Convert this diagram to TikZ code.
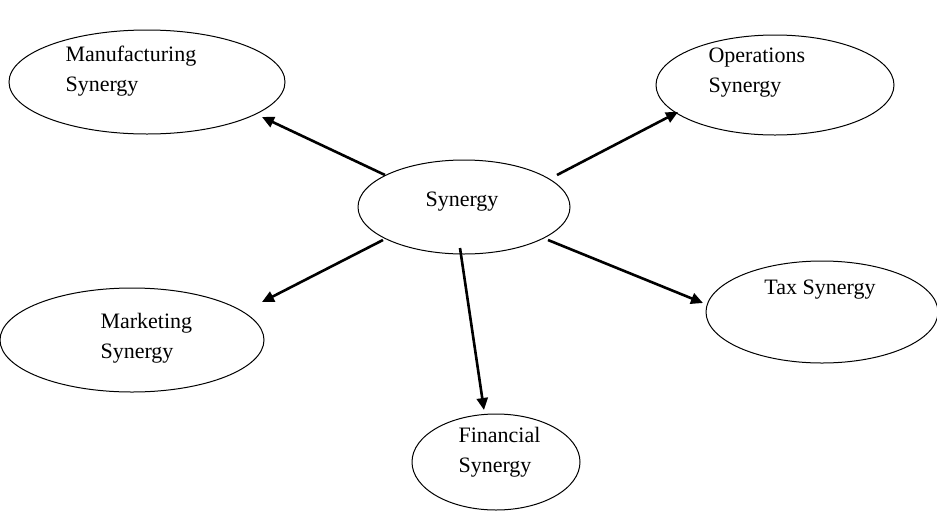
\documentclass[tikz,border=0pt]{standalone}
\usepackage{fontspec}
\setmainfont{Liberation Serif}
\usetikzlibrary{shapes.geometric,arrows.meta}
\begin{document}
\begin{tikzpicture}[x=1pt,y=-1pt,
  lab/.style={font=\fontsize{22}{30}\selectfont,align=left},
  arr/.style={line width=2.6pt,-{Triangle[length=12pt,width=11pt]}}]
\useasboundingbox (0,0) rectangle (937,512);
\node[draw,ellipse,line width=1pt,minimum width=276pt,minimum height=104pt] (man) at (147,82) {};
\node[lab,anchor=north west] at (62,42) {Manufacturing\\Synergy};
\node[draw,ellipse,line width=1pt,minimum width=238pt,minimum height=100pt] (op) at (775,85) {};
\node[lab,anchor=north west] at (705,44) {Operations\\Synergy};
\node[draw,ellipse,line width=1pt,minimum width=212pt,minimum height=94pt] (syn) at (464,207) {};
\node[lab] at (462,202) {Synergy};
\node[draw,ellipse,line width=1pt,minimum width=264pt,minimum height=104pt] (mk) at (132,340) {};
\node[lab,anchor=north west] at (97,310) {Marketing\\Synergy};
\node[draw,ellipse,line width=1pt,minimum width=232pt,minimum height=102pt] (tax) at (822,312) {};
\node[lab] at (820,290) {Tax Synergy};
\node[draw,ellipse,line width=1pt,minimum width=168pt,minimum height=96pt] (fin) at (496,462) {};
\node[lab,anchor=north west] at (455,424) {Financial\\Synergy};
\coordinate (s1) at (385,175); \coordinate (e1) at (262,117);
\coordinate (s2) at (557,175); \coordinate (e2) at (678,112);
\coordinate (s3) at (383,240); \coordinate (e3) at (262,302);
\coordinate (s4) at (460,248); \coordinate (e4) at (484,410);
\coordinate (s5) at (548,240); \coordinate (e5) at (703,303);
\draw[arr] (s1) -- (e1);
\draw[arr] (s2) -- (e2);
\draw[arr] (s3) -- (e3);
\draw[arr] (s4) -- (e4);
\draw[arr] (s5) -- (e5);
\end{tikzpicture}
\end{document}
